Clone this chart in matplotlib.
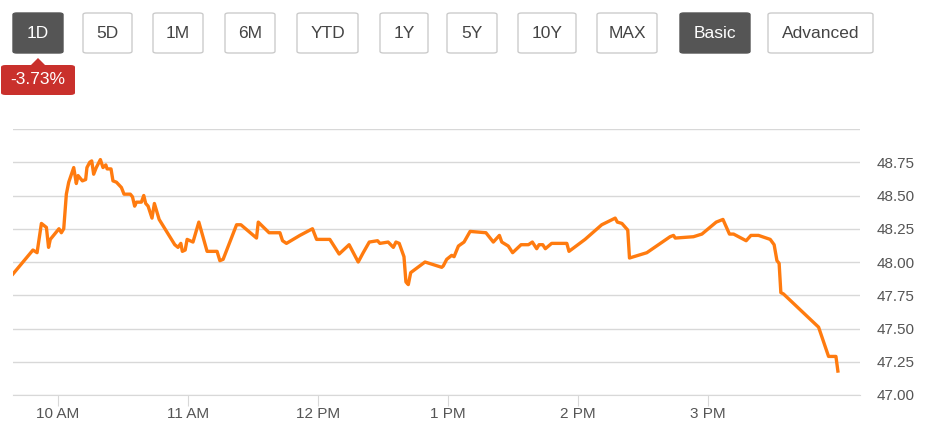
import matplotlib
matplotlib.use("Agg")
import matplotlib.pyplot as plt
from matplotlib.patches import FancyBboxPatch, Polygon

plt.rcParams['font.family'] = ['Liberation Sans', 'DejaVu Sans']

# minutes after 10:00 AM
minutes = [-20.6,-11.4,-9.5,-7.5,-5.2,-4.2,-3.4,0.6,1.7,2.8,4.0,5.1,7.4,8.6,9.4,11.4,12.9,13.5,14.8,15.7,16.6,17.8,19.7,20.9,22.2,22.8,24.6,25.5,27.1,29.4,30.6,33.5,34.5,35.5,36.3,38.6,39.7,40.6,41.7,43.5,44.6,46.8,50.2,54.0,55.5,56.8,57.5,58.8,59.7,62.4,65.1,68.9,73.5,74.8,76.3,82.5,84.5,91.7,92.5,97.5,102.5,103.7,105.5,111.7,117.5,119.4,125.5,129.8,134.4,138.6,140.9,143.7,147.5,148.6,152.4,154.8,156.0,157.5,159.7,160.6,161.7,162.8,169.4,177.1,177.8,179.4,181.7,182.8,184.8,187.4,190.2,197.5,200.9,203.7,204.8,207.8,209.8,213.7,217.1,218.9,220.9,222.0,223.7,224.9,227.8,234.8,235.8,243.2,250.9,257.1,258.1,260.2,262.9,263.7,271.7,282.4,284.0,284.8,293.2,297.1,303.7,306.8,309.8,311.7,317.5,319.7,321.7,323.2,328.6,330.4,331.7,332.7,333.5,334.7,350.9,355.5,358.9,359.8]
prices = [47.91,48.09,48.07,48.29,48.26,48.11,48.17,48.25,48.22,48.25,48.51,48.60,48.71,48.59,48.65,48.61,48.62,48.71,48.75,48.76,48.66,48.71,48.77,48.71,48.73,48.70,48.70,48.61,48.60,48.56,48.51,48.51,48.49,48.42,48.45,48.45,48.50,48.44,48.42,48.33,48.44,48.32,48.23,48.13,48.11,48.14,48.08,48.09,48.17,48.15,48.30,48.08,48.08,48.01,48.02,48.28,48.28,48.18,48.30,48.22,48.22,48.16,48.14,48.20,48.25,48.17,48.17,48.06,48.13,48.00,48.07,48.15,48.16,48.14,48.15,48.11,48.15,48.14,48.04,47.85,47.83,47.92,48.00,47.96,47.97,48.02,48.05,48.04,48.12,48.15,48.23,48.22,48.15,48.20,48.15,48.12,48.07,48.13,48.13,48.15,48.10,48.13,48.13,48.10,48.14,48.14,48.08,48.17,48.28,48.33,48.30,48.29,48.24,48.03,48.07,48.19,48.20,48.18,48.19,48.21,48.30,48.32,48.21,48.21,48.16,48.20,48.20,48.20,48.17,48.13,48.01,47.99,47.77,47.76,47.51,47.29,47.29,47.18]

x_ticks = [0, 60, 120, 180, 240, 300]
x_labels = ["10 AM", "11 AM", "12 PM", "1 PM", "2 PM", "3 PM"]
y_ticks = [47.00, 47.25, 47.50, 47.75, 48.00, 48.25, 48.50, 48.75]
buttons = ["1D", "5D", "1M", "6M", "YTD", "1Y", "5Y", "10Y", "MAX", "Basic", "Advanced"]
active = ["1D", "Basic"]
change_label = "-3.73%"

W, H = 929, 428
fig = plt.figure(figsize=(W/100, H/100), dpi=100)
ax = fig.add_axes([13/W, 1-395/H, (860-13)/W, (395-129)/H])
ax.plot(minutes, prices, color="#ff7b0f", lw=2.4, solid_joinstyle="round")
ax.set_xlim(-20.6, 370)
ax.set_ylim(47.0, 49.0)
ax.set_yticks(y_ticks + [49.0])
ax.yaxis.set_ticklabels([f"{v:.2f}" for v in y_ticks] + [""])
ax.yaxis.tick_right()
ax.grid(axis="y", color="#d8d8d8", lw=1)
ax.tick_params(axis="y", length=0, pad=12, labelsize=11, labelcolor="#555555")
ax.set_xticks(x_ticks)
ax.set_xticklabels(x_labels)
ax.tick_params(axis="x", length=8, color="#d8d8d8", labelsize=11, labelcolor="#555555", pad=1)
for s in ["top", "right", "left"]:
    ax.spines[s].set_visible(False)
ax.spines["bottom"].set_color("#d8d8d8")

# buttons
bx = [(13, 63), (83, 132), (153, 203), (225, 275), (297, 358), (380, 428),
      (447, 497), (518, 576), (597, 657), (680, 750), (768, 873)]
for name, (x0, x1) in zip(buttons, bx):
    on = name in active
    p = FancyBboxPatch((x0/W, 1-53/H), (x1-x0)/W, 40/H,
                       boxstyle="round,pad=0,rounding_size=0.004",
                       transform=fig.transFigure,
                       fc="#555555" if on else "white",
                       ec="#555555" if on else "#cccccc", lw=1)
    fig.patches.append(p)
    fig.text((x0+x1)/2/W, 1-33/H, name, ha="center", va="center",
             fontsize=12.5, color="white" if on else "#444444")

# change badge
fig.patches.append(Polygon([(31/W, 1-65/H), (38/W, 1-58/H), (45/W, 1-65/H)],
                           closed=True, transform=fig.transFigure, fc="#c9302c", ec="none"))
fig.patches.append(FancyBboxPatch((1/W, 1-95/H), 74/W, 30/H,
                                  boxstyle="round,pad=0,rounding_size=0.005",
                                  transform=fig.transFigure, fc="#c9302c", ec="none"))
fig.text(38/W, 1-80/H, change_label, ha="center", va="center", fontsize=12.5, color="white")

fig.savefig("out.png", dpi=100)
